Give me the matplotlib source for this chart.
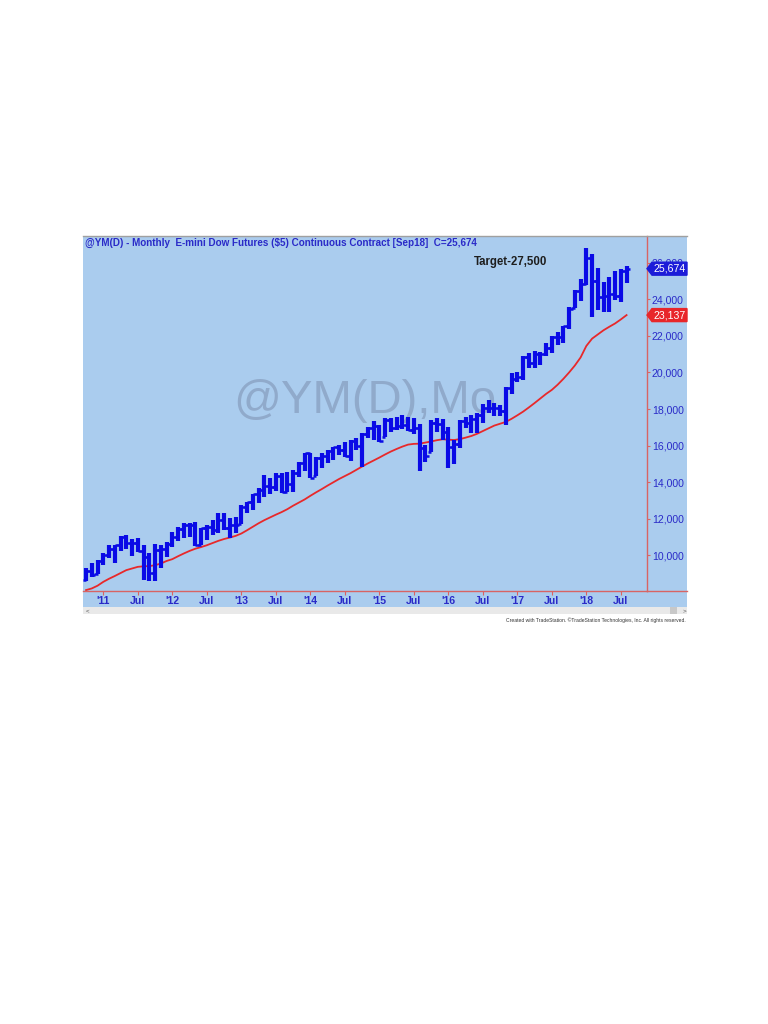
import numpy as np
import matplotlib
matplotlib.use('Agg')
import matplotlib.pyplot as plt
from matplotlib.patches import Polygon, Rectangle
from matplotlib.lines import Line2D
from matplotlib.transforms import IdentityTransform

plt.rcParams['font.family'] = ['Liberation Sans', 'DejaVu Sans']

# Barras mensuales Oct 2010 - Ago 2018
anio_inicio, mes_inicio = 2010, 10

aperturas = [8680, 9130, 9010, 9710, 10010, 10360, 10550, 11010, 10700, 10690, 10240, 9930, 9060, 10290, 10380,
             10620, 11010, 11440, 11660, 11640, 10570, 11500, 11550, 11410, 11920, 11480, 11680,
             11720, 12640, 12920, 13370, 13590, 13800, 13750, 14330, 13490, 13900, 14500, 15060,
             15580, 14350, 15330, 15420, 15710, 15910, 15770, 15410, 16240, 15960, 16660, 16960,
             17080, 16500, 17410, 16970, 17080, 17150, 16860, 16970, 15870, 15670, 17260, 17190,
             16750, 15940, 16110, 17350, 17220, 17460, 17670, 18080, 18050, 18060, 17900, 19160,
             19670, 19730, 20830, 20540, 20990, 21010, 21360, 21940, 21940, 22520, 23520, 24470,
             24840, 26280, 24980, 24120, 24170, 24290, 24200, 25570]
maximos = [9300, 9570, 9770, 10150, 10570, 10600, 11080, 11120, 10900, 10950, 10600, 10150, 10640, 10570, 10730,
           11280, 11540, 11780, 11800, 11840, 11520, 11670, 11940, 12300, 12300, 12030, 12120,
           12760, 12940, 13380, 13670, 14400, 14220, 14520, 14490, 14580, 14670, 15130, 15590,
           15590, 15400, 15600, 15760, 15940, 16040, 16220, 16300, 16400, 16680, 17040, 17360,
           17130, 17500, 17500, 17550, 17680, 17590, 17530, 17170, 16040, 17400, 17500, 17460,
           17040, 16300, 17400, 17590, 17700, 17760, 18300, 18480, 18360, 18250, 19200, 19970,
           20040, 20880, 21080, 21160, 21140, 21600, 22000, 22230, 22540, 23600, 24520, 25090,
           26780, 26450, 25690, 24920, 25220, 25560, 25640, 25840]
minimos = [8580, 8840, 9000, 9500, 9880, 9600, 10230, 10350, 9950, 10200, 8640, 8630, 8580, 9300, 9900,
           10450, 10800, 10960, 11020, 10540, 10560, 10850, 11130, 11220, 11400, 10950, 11220,
           11720, 12330, 12500, 12850, 13210, 13360, 13540, 13430, 13490, 13490, 14310, 14600,
           14250, 14350, 14800, 15080, 15220, 15490, 15400, 15180, 15770, 14850, 16400, 16310,
           16220, 16500, 16770, 16860, 16900, 16810, 16620, 14620, 15130, 15670, 16770, 16310,
           14800, 15000, 15860, 16950, 16700, 16720, 17250, 17800, 17650, 17650, 17130, 18850,
           19500, 19600, 20270, 20240, 20400, 20900, 21080, 21500, 21610, 22400, 23520, 23900,
           24780, 23040, 23420, 23300, 23320, 23960, 23870, 24910]
cierres = [9130, 8950, 9710, 10010, 10360, 10550, 11010, 10700, 10690, 10240, 9930, 9060, 10290, 10380, 10620,
           11010, 11440, 11660, 11640, 10570, 11500, 11550, 11410, 11920, 11480, 11680, 11640,
           12640, 12920, 13370, 13590, 13800, 13750, 14330, 13490, 13900, 14500, 15060, 15580,
           14260, 15330, 15420, 15710, 15910, 15770, 15410, 16240, 15960, 16660, 16960, 17080,
           16250, 17410, 16970, 17080, 17150, 16860, 16970, 15870, 15450, 17260, 17190, 16750,
           15940, 16110, 17350, 17220, 17460, 17670, 18080, 18050, 18060, 17900, 19160, 19670,
           19730, 20830, 20540, 20990, 21010, 21360, 21940, 21940, 22520, 23480, 24470, 24840,
           26280, 24980, 24120, 24170, 24290, 24200, 25570, 25674]
# media movil (linea roja)
media = [8110, 8200, 8350, 8560, 8730, 8880, 9040, 9200, 9290, 9380, 9410, 9420, 9470, 9560, 9700,
         9800, 9960, 10110, 10250, 10370, 10460, 10560, 10680, 10800, 10900, 10980, 11070,
         11200, 11380, 11570, 11760, 11930, 12080, 12230, 12370, 12530, 12720, 12890, 13060,
         13260, 13450, 13630, 13820, 14000, 14180, 14340, 14500, 14680, 14860, 15030, 15190,
         15350, 15520, 15680, 15820, 15950, 16060, 16100, 16110, 16170, 16230, 16300, 16350,
         16330, 16310, 16360, 16440, 16530, 16650, 16800, 16950, 17100, 17200, 17300, 17470,
         17660, 17860, 18090, 18330, 18580, 18830, 19050, 19330, 19650, 20000, 20380, 20820,
         21450, 21850, 22080, 22310, 22500, 22680, 22900, 23137]
niveles_y = [10000, 12000, 14000, 16000, 18000, 20000, 22000, 24000, 26000]

titulo = '@YM(D) - Monthly  E-mini Dow Futures ($5) Continuous Contract [Sep18]  C=25,674'
objetivo = 'Target-27,500'

W, H = 768, 1024
def fx(px):
    return px / W
def fy(py):
    return 1 - py / H

AZUL_FONDO = '#AACCEE'
AZUL = '#0A0AE6'
AZUL_TXT = '#2A2AC8'
ROJO = '#E8282A'
ROJO_EJE = '#D86464'

n = len(cierres)
x = np.arange(n)
meses = [((anio_inicio * 12 + mes_inicio - 1 + i) // 12, (mes_inicio - 1 + i) % 12 + 1) for i in range(n)]
pos_ticks = [i for i, (a, m) in enumerate(meses) if m in (1, 7)]
etq_ticks = ["'%02d" % (meses[i][0] % 100) if meses[i][1] == 1 else 'Jul' for i in pos_ticks]

fig = plt.figure(figsize=(7.68, 10.24), dpi=100)
fig.patch.set_facecolor('white')

fondo = fig.add_axes([fx(83), fy(607), fx(687) - fx(83), fy(236) - fy(607)])
fondo.set_facecolor(AZUL_FONDO)
fondo.set_xticks([])
fondo.set_yticks([])
for s in fondo.spines.values():
    s.set_visible(False)

ax = fig.add_axes([fx(83), fy(591), fx(646.7) - fx(83), fy(236) - fy(591)])
ax.patch.set_alpha(0)

# marca de agua
ax.text(fx(233), fy(413), '@YM(D),Mo', transform=fig.transFigure, fontsize=34,
        color='#90AACB', ha='left', va='baseline', zorder=0.5)

ax.plot(x, media, color=ROJO, lw=1.3, zorder=2)
ax.vlines(x, minimos, maximos, color=AZUL, lw=3.0, zorder=3)
ax.hlines(aperturas, x - 0.6, x, color=AZUL, lw=1.8, zorder=3)
ax.hlines(cierres, x, x + 0.6, color=AZUL, lw=1.8, zorder=3)

for lado in ('top', 'left'):
    ax.spines[lado].set_visible(False)
for lado in ('right', 'bottom'):
    ax.spines[lado].set_color(ROJO_EJE)
    ax.spines[lado].set_linewidth(1.0)

ax.yaxis.tick_right()
ax.set_yticks(niveles_y)
ax.set_yticklabels(['{:,}'.format(v) for v in niveles_y])
ax.tick_params(axis='y', colors=ROJO_EJE, labelcolor=AZUL_TXT, length=2.2, width=0.8,
               pad=1.5, labelsize=7.6)
ax.set_xticks(pos_ticks)
ax.set_xticklabels(etq_ticks)
ax.tick_params(axis='x', colors=ROJO_EJE, labelcolor=AZUL_TXT, length=2.9, width=0.8,
               pad=1, labelsize=7.6)
for lbl in ax.get_xticklabels():
    lbl.set_fontweight('bold')
ax.set_xlim(-0.53, 97.5)
ax.set_ylim(8060, 27459)

fig.add_artist(Line2D([fx(646.7), fx(687)], [fy(591), fy(591)], transform=fig.transFigure,
                      color=ROJO_EJE, lw=1.0))
fig.add_artist(Line2D([fx(83), fx(687)], [fy(235.5), fy(235.5)], transform=fig.transFigure,
                      color='#A0A0A0', lw=1.0))

fig.text(fx(85), fy(242.5), titulo, fontsize=7.15, fontweight='bold', color=AZUL_TXT,
         ha='left', va='center')
fig.text(fx(474), fy(262), objetivo, fontsize=8.3, fontweight='bold', color='#1E1E1E',
         ha='left', va='center')


def etiqueta(valor, color):
    yp = ax.transData.transform((0, valor))[1]
    h = 6.5
    pts = [(647, yp), (652, yp + h), (687, yp + h), (687, yp - h), (652, yp - h)]
    fig.add_artist(Polygon(pts, closed=True, transform=IdentityTransform(), fc=color,
                           ec=color, zorder=5))
    fig.text(669.5, yp, '{:,}'.format(valor), transform=IdentityTransform(), color='white',
             fontsize=7.6, ha='center', va='center', zorder=6)


etiqueta(cierres[-1], '#1C1CD8')
etiqueta(media[-1], '#E8262A')

# barra de desplazamiento y pie
fig.add_artist(Rectangle((fx(83), fy(614)), fx(687) - fx(83), fy(607) - fy(614),
                         transform=fig.transFigure, fc='#E9E9E9', ec='none'))
fig.add_artist(Rectangle((fx(670), fy(614)), fx(677) - fx(670), fy(607) - fy(614),
                         transform=fig.transFigure, fc='#C8C8C8', ec='none'))
fig.text(fx(86), fy(610.5), '<', fontsize=4.5, color='#555555', ha='left', va='center')
fig.text(fx(686), fy(610.5), '>', fontsize=4.5, color='#555555', ha='right', va='center')
fig.text(fx(686), fy(620), 'Created with TradeStation. \u00a9TradeStation Technologies, Inc. All rights reserved.',
         fontsize=3.6, color='#333333', ha='right', va='center')

fig.savefig('out.png', dpi=100, facecolor='white')
